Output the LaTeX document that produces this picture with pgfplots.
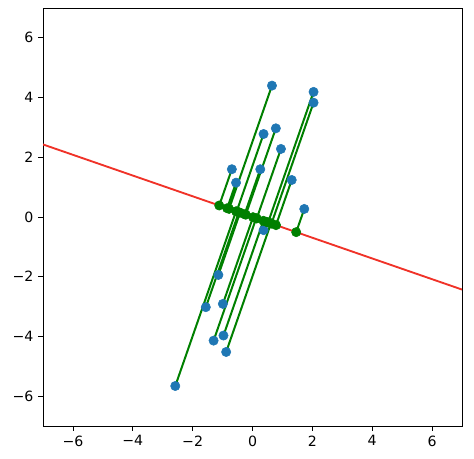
\documentclass[border=0pt]{standalone}
\usepackage{fontspec}
\setmainfont{DejaVu Sans}
\usepackage{pgfplots}
\pgfplotsset{compat=1.18}
\definecolor{mblue}{HTML}{1F77B4}
\definecolor{mgreen}{HTML}{008000}
\definecolor{mred}{HTML}{F03228}
\begin{document}
\begin{tikzpicture}
\begin{axis}[
  scale only axis,
  width=314.25pt, height=313.5pt,
  xmin=-7, xmax=7, ymin=-7, ymax=7,
  xtick={-6,-4,-2,0,2,4,6}, ytick={-6,-4,-2,0,2,4,6},
  xticklabels={−6,−4,−2,0,2,4,6},
  yticklabels={−6,−4,−2,0,2,4,6},
  tick align=outside, tick pos=left,
  major tick length=3.6pt,
  every tick/.style={black, line width=0.6pt},
  axis line style={line width=0.6pt},
  tick label style={font=\fontsize{10.6}{12}\selectfont},
  unbounded coords=jump,
  clip=true,
]
% blue data points
\addplot[only marks, mark=*, mark size=3.5pt, mark options={draw=mblue, fill=mblue}] coordinates {
(0.65,4.40) (2.04,4.19) (2.04,3.83) (0.37,2.78) (0.78,2.97) (0.95,2.28)
(-0.69,1.60) (0.26,1.60) (-0.55,1.15) (1.31,1.24) (1.73,0.27) (0.37,-0.44)
(-1.14,-1.94) (-1.56,-3.02) (-0.99,-2.91) (-1.30,-4.14) (-0.97,-3.97)
(-0.88,-4.52) (-2.58,-5.66)
};
% green projection segments
\addplot[mgreen, line width=1.5pt] table[row sep=\\] {
x y\\
0.65 4.40\\ -0.783 0.272\\ nan nan\\
2.04 4.19\\ 0.522 -0.181\\ nan nan\\
2.04 3.83\\ 0.634 -0.220\\ nan nan\\
0.37 2.78\\ -0.531 0.184\\ nan nan\\
0.78 2.97\\ -0.224 0.078\\ nan nan\\
0.95 2.28\\ 0.141 -0.049\\ nan nan\\
-0.69 1.60\\ -1.112 0.386\\ nan nan\\
0.26 1.60\\ -0.264 0.092\\ nan nan\\
-0.55 1.15\\ -0.847 0.294\\ nan nan\\
1.31 1.24\\ 0.785 -0.273\\ nan nan\\
1.73 0.27\\ 1.460 -0.507\\ nan nan\\
0.37 -0.44\\ 0.466 -0.162\\ nan nan\\
-1.14 -1.94\\ -0.416 0.145\\ nan nan\\
-1.56 -3.02\\ -0.456 0.158\\ nan nan\\
-0.99 -2.91\\ 0.018 -0.006\\ nan nan\\
-1.30 -4.14\\ 0.123 -0.043\\ nan nan\\
-0.97 -3.97\\ 0.364 -0.127\\ nan nan\\
-0.88 -4.52\\ 0.615 -0.214\\ nan nan\\
-2.58 -5.66\\ -0.549 0.191\\
};
% green projected points
\addplot[only marks, mark=*, mark size=3.5pt, mark options={draw=mgreen, fill=mgreen}] coordinates {
(-0.783,0.272) (0.522,-0.181) (0.634,-0.220) (-0.531,0.184) (-0.224,0.078)
(0.141,-0.049) (-1.112,0.386) (-0.264,0.092) (-0.847,0.294) (0.785,-0.273)
(1.460,-0.507) (0.466,-0.162) (-0.416,0.145) (-0.456,0.158) (0.018,-0.006)
(0.123,-0.043) (0.364,-0.127) (0.615,-0.214) (-0.549,0.191)
};
% red principal direction
\addplot[mred, line width=1.4pt] coordinates {(-7,2.430) (7,-2.430)};
\end{axis}
\pgfresetboundingbox
\path (current axis.south west) ++(-32.25pt,-24pt) coordinate (bl);
\path (current axis.north east) ++(9pt,6pt) coordinate (tr);
\path (bl) rectangle (tr);
\end{tikzpicture}
\end{document}
